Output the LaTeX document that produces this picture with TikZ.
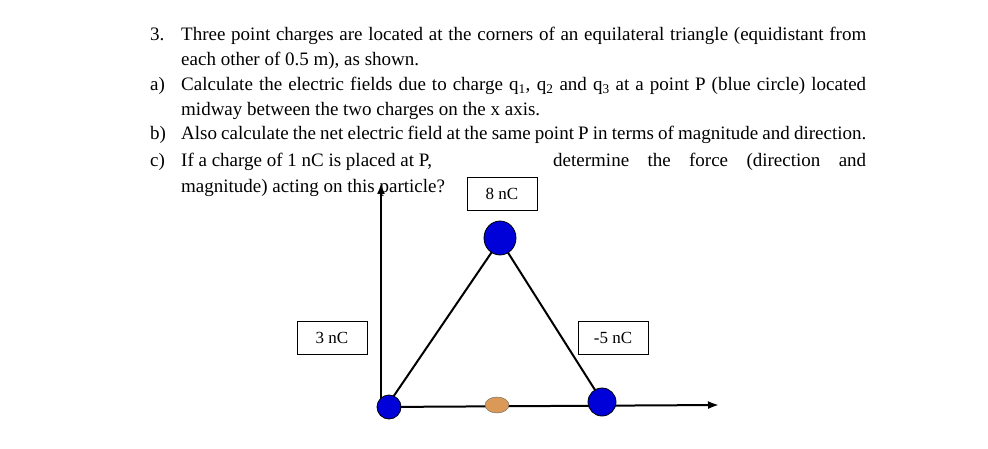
\documentclass[tikz,border=0pt]{standalone}
\usepackage{fontspec}
\usetikzlibrary{arrows.meta}
\setmainfont{Liberation Serif}
\begin{document}
\begin{tikzpicture}[x=1pt,y=-1pt,
 txt/.style={anchor=base west,inner sep=0,font=\fontsize{19}{21}\selectfont},
 lbl/.style={draw,thick,minimum width=70pt,minimum height=33pt,inner sep=0,font=\fontsize{17}{19}\selectfont,fill=white},
 blue/.style={fill=blue!85!black,draw=black,thick},
 ln/.style={line width=2pt},
 arr/.style={-{Latex[length=11pt,width=8pt]}}]
\useasboundingbox[fill=white] (0,0) rectangle (988,449);
\def\W{685pt}
\node[txt] (n3) at (150,41) {3.};
\node[txt] (l1) at (181,41) {\makebox[\W][s]{Three point charges are located at the corners of an equilateral triangle (equidistant from}};
\node[txt] (l2) at (181,66) {each other of 0.5 m), as shown.};
\node[txt] (na) at (150,91) {a)};
\node[txt] (l3) at (181,91) {\makebox[\W][s]{Calculate the electric fields due to charge q\textsubscript{1}, q\textsubscript{2} and q\textsubscript{3} at a point P (blue circle) located}};
\node[txt] (l4) at (181,116) {midway between the two charges on the x axis.};
\node[txt] (nb) at (150,140) {b)};
\node[txt] (l5) at (181,140) {\makebox[\W][s]{Also calculate the net electric field at the same point P in terms of magnitude and direction.}};
\node[txt] (nc) at (150,167) {c)};
\node[txt] (l6) at (181,167) {If a charge of 1 nC is placed at P,};
\node[txt] (l6b) at (553,167) {\makebox[313pt][s]{determine the force (direction and}};
\node[txt] (l7) at (181,193) {magnitude) acting on this particle?};
% axes
\coordinate (O) at (381,407);
\draw[ln,arr] (O) -- (381,183);
\draw[ln,arr] (O) -- (719,405);
% triangle
\coordinate (A) at (389,403);
\coordinate (B) at (500,240);
\coordinate (C) at (602,401);
\draw[ln] (A) -- (B) -- (C);
\node[lbl] (b8) at (502,193.5) {8 nC};
\node[lbl] (b3) at (332,337.5) {3 nC};
\node[lbl] (b5) at (613,337.5) {-5 nC};
\draw[blue] (389,407) ellipse (12 and 12);
\draw[blue] (500,238) ellipse (16 and 17);
\draw[blue] (602,402) ellipse (14 and 14);
\draw[fill=brown!70!orange!80,draw=black!60] (497,405) ellipse (12 and 8);
\end{tikzpicture}
\end{document}
